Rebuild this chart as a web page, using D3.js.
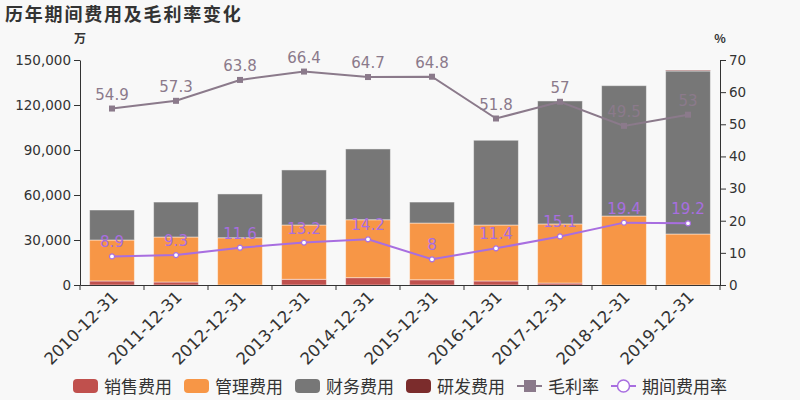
<!DOCTYPE html>
<html>
<head>
<meta charset="utf-8">
<script src="https://cdn.jsdelivr.net/npm/d3@7"></script>
<style>
  body { margin: 0; background: #f8f8f8; }
  svg { display: block; font-family: "Noto Sans CJK SC", "DejaVu Sans", sans-serif; }
</style>
</head>
<body>
<svg id="chart" width="800" height="400"></svg>
<script>
const years = ["2010-12-31", "2011-12-31", "2012-12-31", "2013-12-31", "2014-12-31",
    "2015-12-31", "2016-12-31", "2017-12-31", "2018-12-31", "2019-12-31"];
const sales = [2700, 2000, 0, 3800, 4900, 3500, 2700, 1300, 0, 0];
const admin = [27300, 30000, 31500, 36200, 38600, 37800, 37300, 39400, 46000, 34000];
const finance = [20000, 23300, 29200, 36700, 47200, 14000, 56500, 82000, 86900, 108700];
const rnd = [0, 0, 0, 0, 0, 0, 0, 0, 0, 500];
const grossMargin = [54.9, 57.3, 63.8, 66.4, 64.7, 64.8, 51.8, 57, 49.5, 53];
const expenseRate = [8.9, 9.3, 11.6, 13.2, 14.2, 8, 11.4, 15.1, 19.4, 19.2];
const leftTicks = [0, 30000, 60000, 90000, 120000, 150000];
const rightTicks = [0, 10, 20, 30, 40, 50, 60, 70];

const barSeries = [
    {name: "销售费用", values: sales, color: "#c0504d"},
    {name: "管理费用", values: admin, color: "#f79646"},
    {name: "财务费用", values: finance, color: "#777777"},
    {name: "研发费用", values: rnd, color: "#7b2c2c"}
];
const lineSeries = [
    {name: "毛利率", values: grossMargin, color: "#8b7a8b", marker: "square"},
    {name: "期间费用率", values: expenseRate, color: "#a86ee0", marker: "circle"}
];

const svg = d3.select("#chart");
const margin = {left: 80, right: 80, top: 60, bottom: 115};
const width = 800 - margin.left - margin.right;
const height = 400 - margin.top - margin.bottom;

svg.append("text")
    .attr("x", 5).attr("y", 21)
    .attr("font-size", 18).attr("font-weight", "bold").attr("fill", "#333")
    .attr("letter-spacing", 1.8)
    .text("历年期间费用及毛利率变化");

const g = svg.append("g").attr("transform", `translate(${margin.left},${margin.top})`);

const x = d3.scaleBand().domain(years).range([0, width]).paddingInner(0.3).paddingOuter(0.15);
const xc = d3.scaleBand().domain(years).range([0, width]);
const y = d3.scaleLinear().domain([0, 150000]).range([height, 0]);
const y2 = d3.scaleLinear().domain([0, 70]).range([height, 0]);

// stacked bars
const table = years.map((yr, i) => {
    const row = {year: yr};
    barSeries.forEach(s => row[s.name] = s.values[i]);
    return row;
});
const stack = d3.stack().keys(barSeries.map(s => s.name))(table);

stack.forEach((layer, li) => {
    g.append("g").selectAll("rect")
        .data(layer.filter(d => d[1] - d[0] > 0))
        .enter().append("rect")
        .attr("x", d => xc(d.data.year) + (xc.bandwidth() - x.bandwidth()) / 2)
        .attr("y", d => y(d[1]))
        .attr("width", x.bandwidth())
        .attr("height", d => y(d[0]) - y(d[1]))
        .attr("fill", barSeries[li].color)
        .attr("stroke", "rgba(255,255,255,0.45)")
        .attr("stroke-width", 1);
});

// axes
const xAxis = g.append("g")
    .attr("transform", `translate(0,${height})`)
    .call(d3.axisBottom(xc).tickSize(0).tickFormat(""));
xAxis.select(".domain").attr("stroke", "#333");
xAxis.selectAll(".bound")
    .data(d3.range(years.length + 1))
    .enter().append("line")
    .attr("x1", i => i * xc.step()).attr("x2", i => i * xc.step())
    .attr("y1", 0).attr("y2", 5).attr("stroke", "#333");
g.append("g").selectAll("text")
    .data(years)
    .enter().append("text")
    .attr("transform", d => `translate(${xc(d) + xc.bandwidth() / 2 + 7},${height + 13}) rotate(-45)`)
    .attr("text-anchor", "end")
    .attr("font-size", 16.5)
    .attr("fill", "#333")
    .attr("font-family", "DejaVu Sans")
    .text(d => d);

const yAxis = g.append("g")
    .call(d3.axisLeft(y).tickValues(leftTicks).tickSizeOuter(0).tickFormat(d3.format(",")));
const y2Axis = g.append("g")
    .attr("transform", `translate(${width},0)`)
    .call(d3.axisRight(y2).tickValues(rightTicks).tickSizeOuter(0));
[yAxis, y2Axis].forEach(ax => {
    ax.select(".domain").attr("stroke", "#333");
    ax.selectAll(".tick line").attr("stroke", "#333");
    ax.selectAll(".tick text").attr("fill", "#333").attr("font-size", 13.5)
        .attr("font-family", "DejaVu Sans");
});

g.append("text").attr("x", 0).attr("y", -17).attr("text-anchor", "middle")
    .attr("font-size", 12).attr("font-weight", "bold").attr("fill", "#333").text("万");
g.append("text").attr("x", width).attr("y", -17).attr("text-anchor", "middle")
    .attr("font-size", 12).attr("font-weight", "bold").attr("fill", "#333").text("%");

// lines
const cx = i => xc(years[i]) + xc.bandwidth() / 2;
lineSeries.forEach(s => {
    const line = d3.line().x((d, i) => cx(i)).y(d => y2(d));
    g.append("path")
        .datum(s.values)
        .attr("d", line)
        .attr("fill", "none")
        .attr("stroke", s.color)
        .attr("stroke-width", 2);
    const pts = g.append("g").selectAll("g")
        .data(s.values).enter().append("g")
        .attr("transform", (d, i) => `translate(${cx(i)},${y2(d)})`);
    if (s.marker === "square") {
        pts.append("rect").attr("x", -3).attr("y", -3).attr("width", 6).attr("height", 6)
            .attr("fill", s.color);
    } else {
        pts.append("circle").attr("r", 2.5).attr("fill", "#fff")
            .attr("stroke", s.color).attr("stroke-width", 1.2);
    }
    pts.append("text")
        .attr("y", -9)
        .attr("text-anchor", "middle")
        .attr("font-size", 15)
        .attr("font-family", "DejaVu Sans")
        .attr("fill", s.color)
        .text(d => d);
});

// legend
const legend = svg.append("g").attr("transform", "translate(0,386)");
const items = [
    ...barSeries.map(s => ({name: s.name, color: s.color, type: "bar"})),
    ...lineSeries.map(s => ({name: s.name, color: s.color, type: s.marker}))
];
let lx = 0;
items.forEach(it => {
    const ig = legend.append("g");
    if (it.type === "bar") {
        ig.append("rect").attr("x", 0).attr("y", -7).attr("width", 25).attr("height", 14)
            .attr("rx", 4).attr("fill", it.color);
    } else {
        ig.append("line").attr("x1", 0).attr("x2", 25).attr("y1", 0).attr("y2", 0)
            .attr("stroke", it.color).attr("stroke-width", 2);
        if (it.type === "square") {
            ig.append("rect").attr("x", 7).attr("y", -6).attr("width", 12).attr("height", 12)
                .attr("fill", it.color);
        } else {
            ig.append("circle").attr("cx", 12.5).attr("r", 6).attr("fill", "#fff")
                .attr("stroke", it.color).attr("stroke-width", 1.5);
        }
    }
    const t = ig.append("text").attr("x", 31).attr("y", 6.5)
        .attr("font-size", 17).attr("fill", "#333").text(it.name);
    const w = 31 + t.node().getComputedTextLength();
    ig.attr("transform", `translate(${lx},0)`);
    lx += w + 12;
});
const total = lx - 12;
legend.attr("transform", `translate(${(800 - total) / 2},386)`);
</script>
</body>
</html>
